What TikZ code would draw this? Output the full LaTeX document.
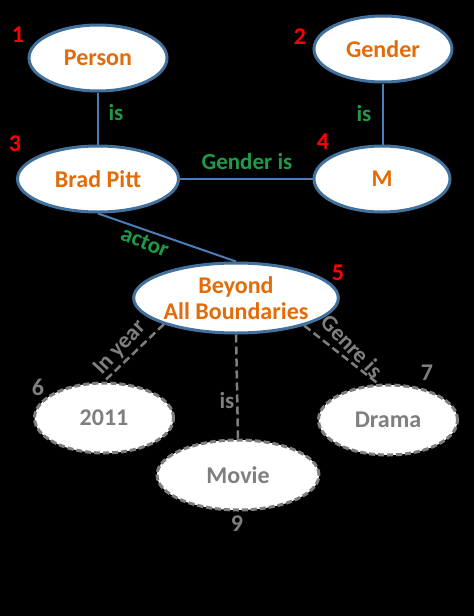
\documentclass[tikz,border=0pt]{standalone}
\usepackage{fontspec}
\setmainfont{Carlito}
\usetikzlibrary{shapes.geometric}
\pgfdeclarelayer{bg}
\pgfdeclarelayer{edges}
\pgfsetlayers{bg,edges,main}
\definecolor{edgeblue}{HTML}{41719C}
\definecolor{lineblue}{HTML}{4A7EBB}
\definecolor{txtorange}{HTML}{E36C09}
\definecolor{txtgreen}{HTML}{1E9B46}
\definecolor{numred}{HTML}{FF0000}
\definecolor{dgray}{HTML}{7F7F7F}
\begin{document}
\begin{tikzpicture}[x=1pt,y=-1pt,
  ent/.style={ellipse,draw=edgeblue,line width=3pt,fill=white,inner sep=0pt,
    text=txtorange,font=\fontsize{24}{26}\selectfont\bfseries,align=center},
  lit/.style={ellipse,draw=dgray,line width=3pt,dash pattern=on 6pt off 3pt,fill=white,inner sep=0pt,
    text=dgray,font=\fontsize{24}{26}\selectfont\bfseries},
  num/.style={text=numred,font=\fontsize{24}{26}\selectfont\bfseries,inner sep=0pt},
  gnum/.style={text=dgray,font=\fontsize{24}{26}\selectfont\bfseries,inner sep=0pt},
  rel/.style={text=txtgreen,font=\fontsize{23}{25}\selectfont\bfseries,inner sep=0pt},
  grel/.style={text=dgray,font=\fontsize{23}{25}\selectfont\bfseries,inner sep=0pt},
  conn/.style={draw=lineblue,line width=2pt},
  dconn/.style={draw=dgray,line width=2.5pt,dash pattern=on 8pt off 4pt}]
\begin{pgfonlayer}{bg}
\fill[black] (0,0) rectangle (474,616);
\end{pgfonlayer}
\useasboundingbox (0,0) rectangle (474,616);
\node[ent,minimum width=138pt,minimum height=66pt] (person) at (98,58) {Person};
\node[ent,minimum width=138pt,minimum height=66pt] (gender) at (383,49) {Gender};
\node[ent,minimum width=161pt,minimum height=66pt] (brad) at (98,179) {Brad Pitt};
\node[ent,minimum width=136pt,minimum height=66pt] (m) at (382,179) {M};
\node[ent,minimum width=196pt,minimum height=70pt] (beyond) at (236,298) {Beyond\\All Boundaries};
\node[lit,minimum width=139pt,minimum height=70pt] (y2011) at (104,418) {2011};
\node[lit,minimum width=139pt,minimum height=70pt] (drama) at (388,420) {Drama};
\node[lit,minimum width=162pt,minimum height=70pt] (movie) at (238,475) {Movie};
\begin{pgfonlayer}{edges}
\draw[conn] (person.south) -- (brad.north);
\draw[conn] (gender.south) -- (gender.south |- m.north);
\draw[conn] (brad.east) -- (m.west);
\draw[conn] (brad.south) -- (beyond.north);
\draw[dconn] (beyond.200) -- (y2011.north);
\draw[dconn] (beyond.south) -- (movie.north);
\draw[dconn] (beyond.-22) -- (drama.105);
\end{pgfonlayer}
% numbers
\node[num] (n1) at (18,35) {1};
\node[num] (n2) at (300,37) {2};
\node[num] (n3) at (15,144) {3};
\node[num] (n4) at (323,142) {4};
\node[num] (n5) at (338,273) {5};
\node[gnum] (n6) at (38,387) {6};
\node[gnum] (n7) at (427,373) {7};
\node[gnum] (n9) at (237,524) {9};
% relation labels
\node[rel] (l1) at (116,113) {is};
\node[rel] (l2) at (364,114) {is};
\node[rel] (l3) at (247,162) {Gender is};
\node[rel,rotate=-22] (l4) at (145,242) {actor};
\node[grel,rotate=47] (l5) at (120,348) {In year};
\node[grel] (l6) at (227,401) {is};
\node[grel,rotate=-46] (l7) at (352,346) {Genre is};
\end{tikzpicture}
\end{document}
